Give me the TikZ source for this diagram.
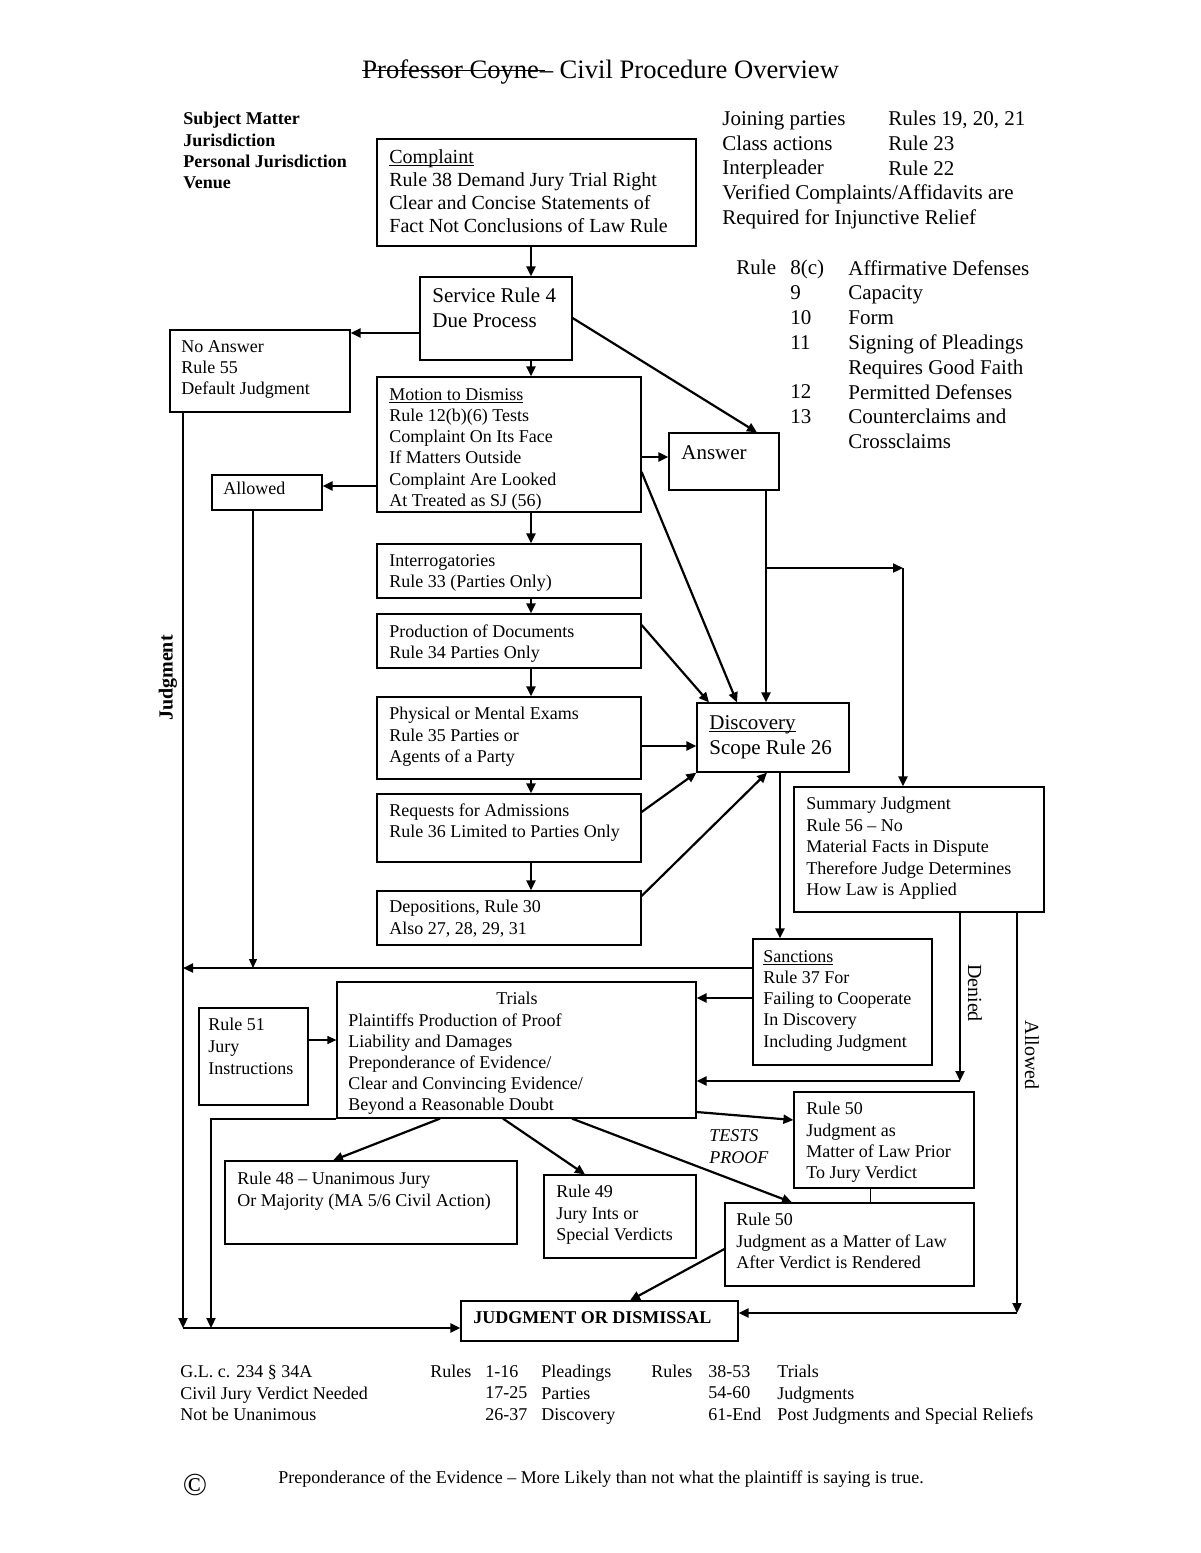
\documentclass[tikz,border=0pt]{standalone}
\usepackage{fontspec}
\setmainfont{Liberation Serif}
\usetikzlibrary{arrows.meta,calc,fit}
\newcommand\myul[1]{\setbox0\hbox{#1}\rlap{\rule[-1.2pt]{\wd0}{0.5pt}}\box0}
\begin{document}
\begin{tikzpicture}[x=0.5pt,y=-0.5pt,
  box/.style={draw, line width=0.6pt, inner sep=0pt},
  tn/.style={inner sep=0pt, anchor=north west, align=left},
  tnine/.style={tn, font=\fontsize{9}{10.6}\selectfont},
  tninew/.style={tn, font=\fontsize{9}{11}\selectfont},
  tten/.style={tn, font=\fontsize{10}{11.5}\selectfont},
  ttenh/.style={tn, font=\fontsize{10.5}{12.4}\selectfont},
  arr/.style={line width=1.1pt, -{Triangle[length=5pt,width=4.5pt]}},
  thinarr/.style={line width=0.6pt, -{Triangle[length=4.5pt,width=4pt]}},
  lbl/.style={inner sep=0pt, font=\fontsize{10}{12}\selectfont}
]
\fill[white] (0,0) rectangle (1200,1553);
\useasboundingbox (0,0) rectangle (1200,1553);

% guides
\foreach \v in {183,211,253,333,440,503,531,572,585,630,709,737,757,766,767,780,792,870,903,960,1017} {\coordinate (v\v) at (\v,0);}
\foreach \h in {318,333,457,472,486,568,625,746,812,896,968,998,1040,1081,1112,1120,1249,1313,1328} {\coordinate (h\h) at (0,\h);}

% title
\node[inner sep=0pt, anchor=base west, font=\fontsize{13.3}{15}\selectfont] (t1) at (362,78) {Professor Coyne\ };
\node[inner sep=0pt, anchor=base west, font=\fontsize{13.3}{15}\selectfont] (t2) at (t1.base east) {– Civil Procedure Overview};
\draw[line width=0.9pt] ([yshift=3.8pt]t1.base west) -- ([yshift=3.8pt,xshift=3pt]t1.base east);

% top-left bold
\node[tn, font=\bfseries\fontsize{9}{10.65}\selectfont] (jur) at (183,112) {Subject Matter\\Jurisdiction\\Personal Jurisdiction\\Venue};

% top-right blocks
\node[ttenh] (rb1) at (722,111) {Joining parties\\Class actions\\Interpleader\\Verified Complaints/Affidavits are\\Required for Injunctive Relief};
\node[ttenh] (rb2) at (888,111) {Rules 19, 20, 21\\Rule 23\\Rule 22};
\node[ttenh] (rr1) at (736,260) {Rule};
\node[ttenh] (rr2) at (790,260) {8(c)\\9\\10\\11\\\mbox{}\\12\\13};
\node[ttenh] (rr3) at (848,260) {Affirmative Defenses\\Capacity\\Form\\Signing of Pleadings\\Requires Good Faith\\Permitted Defenses\\Counterclaims and\\Crossclaims};

% boxes
\node[box, fit={(377,139) (696,246)}] (complaint) {};
\node[box, fit={(420,277) (572,360)}] (service) {};
\node[box, fit={(170,330) (350,412)}] (noanswer) {};
\node[box, fit={(377,377) (641,512)}] (motion) {};
\node[box, fit={(669,433) (779,490)}] (answer) {};
\node[box, fit={(212,475) (322,510)}] (allowed) {};
\node[box, fit={(377,544) (641,598)}] (interrog) {};
\node[box, fit={(377,614) (641,668)}] (prod) {};
\node[box, fit={(377,697) (641,779)}] (phys) {};
\node[box, fit={(377,794) (641,862)}] (req) {};
\node[box, fit={(377,891) (641,945)}] (dep) {};
\node[box, fit={(697,703) (849,772)}] (disc) {};
\node[box, fit={(794,787) (1044,912)}] (sj) {};
\node[box, fit={(753,939) (932,1065)}] (sanc) {};
\node[box, fit={(337,982) (696,1118)}] (trials) {};
\node[box, fit={(199,1008) (308,1105)}] (r51) {};
\node[box, fit={(225,1161) (517,1244)}] (r48) {};
\node[box, fit={(544,1175) (696,1258)}] (r49) {};
\node[box, fit={(794,1092) (974,1188)}] (r50a) {};
\node[box, fit={(725,1203) (974,1286)}] (r50b) {};
\node[box, fit={(461,1301) (738,1341)}] (judg) {};

% box texts
\node[tten] (complaint-t) at (389,149.5) {\myul{Complaint}\\Rule 38 Demand Jury Trial Right\\Clear and Concise Statements of\\Fact Not Conclusions of Law Rule};
\node[ttenh, font=\fontsize{10.5}{12.5}\selectfont] (service-t) at (432,288) {Service Rule 4\\Due Process};
\node[tnine] (noanswer-t) at (181,340) {No Answer\\Rule 55\\Default Judgment};
\node[tnine] (motion-t) at (389,388) {\myul{Motion to Dismiss}\\Rule 12(b)(6) Tests\\Complaint On Its Face\\If Matters Outside\\Complaint Are Looked\\At Treated as SJ (56)};
\node[ttenh] (answer-t) at (681,445) {Answer};
\node[tnine] (allowed-t) at (223,482) {Allowed};
\node[tnine] (interrog-t) at (389,554) {Interrogatories\\Rule 33 (Parties Only)};
\node[tnine] (prod-t) at (389,624) {Production of Documents\\Rule 34 Parties Only};
\node[tnine] (phys-t) at (389,707) {Physical or Mental Exams\\Rule 35 Parties or\\Agents of a Party};
\node[tnine] (req-t) at (389,803) {Requests for Admissions\\Rule 36 Limited to Parties Only};
\node[tninew] (dep-t) at (389,900) {Depositions, Rule 30\\Also 27, 28, 29, 31};
\node[ttenh, font=\fontsize{10.5}{12.5}\selectfont] (disc-t) at (709,715) {\myul{Discovery}\\Scope Rule 26};
\node[tn, font=\fontsize{9}{10.75}\selectfont] (sj-t) at (806,797) {Summary Judgment\\Rule 56 – No\\Material Facts in Dispute\\Therefore Judge Determines\\How Law is Applied};
\node[tnine] (sanc-t) at (763,950) {\myul{Sanctions}\\Rule 37 For\\Failing to Cooperate\\In Discovery\\Including Judgment};
\node[tnine, anchor=north] (trials-h) at (517,992) {Trials};
\node[tnine] (trials-t) at (348,1013) {Plaintiffs Production of Proof\\Liability and Damages\\Preponderance of Evidence/\\Clear and Convincing Evidence/\\Beyond a Reasonable Doubt};
\node[tninew] (r51-t) at (208,1018) {Rule 51\\Jury\\Instructions};
\node[tnine] (r48-t) at (237,1172) {Rule 48 – Unanimous Jury\\Or Majority (MA 5/6 Civil Action)};
\node[tnine] (r49-t) at (556,1185) {Rule 49\\Jury Ints or\\Special Verdicts};
\node[tnine] (r50a-t) at (806,1102) {Rule 50\\Judgment as\\Matter of Law Prior\\To Jury Verdict};
\node[tnine] (r50b-t) at (736,1213) {Rule 50\\Judgment as a Matter of Law\\After Verdict is Rendered};
\node[tn, font=\bfseries\fontsize{9}{11}\selectfont] (judg-t) at (473,1311) {JUDGMENT OR DISMISSAL};
\node[tn, font=\itshape\fontsize{9}{11}\selectfont] (tests) at (709,1129) {TESTS\\PROOF};

% rotated labels
\node[lbl, font=\bfseries\fontsize{10}{12}\selectfont, rotate=90] (lbljudg) at (168,678) {Judgment};
\node[lbl, rotate=-90] (lbldenied) at (975,993) {Denied};
\node[lbl, rotate=-90] (lblallowed) at (1032,1055) {Allowed};

% connectors
\draw[arr] (v531 |- complaint.south) -- (v531 |- service.north);
\draw[arr] (service.west |- h333) -- (noanswer.east |- h333);
\draw[arr] (v531 |- service.south) -- (v531 |- motion.north);
\draw[arr] (service.east |- h318) -- (v757 |- answer.north);
\draw[arr] (motion.east |- h457) -- (answer.west |- h457);
\draw[arr] (motion.west |- h486) -- (allowed.east |- h486);
\draw[arr] (motion.east |- h472) -- (v737 |- disc.north);
\draw[arr] (v531 |- motion.south) -- (v531 |- interrog.north);
\draw[arr] (v531 |- interrog.south) -- (v531 |- prod.north);
\draw[arr] (v531 |- prod.south) -- (v531 |- phys.north);
\draw[arr] (prod.east |- h625) -- (v709 |- disc.north);
\draw[arr] (v766 |- answer.south) -- (v766 |- disc.north);
\draw[arr] (v766 |- h568) -- (v903 |- h568);
\draw[arr] (v903 |- h568) -- (v903 |- sj.north);
\draw[arr] (phys.east |- h746) -- (disc.west |- h746);
\draw[arr] (v531 |- phys.south) -- (v531 |- req.north);
\draw[arr] (req.east |- h812) -- (disc.south west);
\draw[arr] (v531 |- req.south) -- (v531 |- dep.north);
\draw[arr] (dep.east |- h896) -- (v767 |- disc.south);
\draw[arr] (v780 |- disc.south) -- (v780 |- sanc.north);
\draw[arr] (v183 |- noanswer.south) -- (v183 |- h1328);
\draw[arr] (v183 |- h1328) -- (judg.west |- h1328);
\draw[thinarr] (v253 |- allowed.south) -- (v253 |- h968);
\draw[arr] (sanc.west |- h968) -- (v183 |- h968);
\draw[arr] (sanc.west |- h998) -- (trials.east |- h998);
\draw[arr] (v960 |- sj.south) -- (v960 |- h1081);
\draw[arr] (v960 |- h1081) -- (trials.east |- h1081);
\draw[arr] (v1017 |- sj.south) -- (v1017 |- h1313);
\draw[arr] (v1017 |- h1313) -- (judg.east |- h1313);
\draw[thinarr] (r51.east |- h1040) -- (trials.west |- h1040);
\draw[arr] (trials.east |- h1112) -- (r50a.west |- h1120);
\draw[arr] (v440 |- trials.south) -- (v333 |- r48.north);
\draw[arr] (v503 |- trials.south) -- (v585 |- r49.north);
\draw[arr] (v572 |- trials.south) -- (v792 |- r50b.north);
\draw[line width=0.5pt] (v870 |- r50a.south) -- (v870 |- r50b.north);
\draw[arr] (r50b.west |- h1249) -- (v630 |- judg.north);
\draw[arr] (trials.south west) -- (v211 |- trials.south west) -- (v211 |- h1328);

% bottom text
\node[tn, font=\fontsize{9}{10.75}\selectfont] (bl1) at (180,1365) {G.L. c. 234 § 34A\\Civil Jury Verdict Needed\\Not be Unanimous};
\node[tn, font=\fontsize{9}{10.75}\selectfont] (bl2) at (430,1365) {Rules};
\node[tn, font=\fontsize{9}{10.75}\selectfont] (bl3) at (485,1365) {1-16\\17-25\\26-37};
\node[tn, font=\fontsize{9}{10.75}\selectfont] (bl4) at (541,1365) {Pleadings\\Parties\\Discovery};
\node[tn, font=\fontsize{9}{10.75}\selectfont] (bl5) at (651,1365) {Rules};
\node[tn, font=\fontsize{9}{10.75}\selectfont] (bl6) at (708,1365) {38-53\\54-60\\61-End};
\node[tn, font=\fontsize{9}{10.75}\selectfont] (bl7) at (777,1365) {Trials\\Judgments\\Post Judgments and Special Reliefs};

\node[inner sep=0pt, font=\fontsize{16}{18}\selectfont] (copy) at (195,1485) {\textcopyright};
\node[tn, font=\fontsize{9}{10.75}\selectfont] (foot) at (278,1470) {Preponderance of the Evidence – More Likely than not what the plaintiff is saying is true.};
\end{tikzpicture}
\end{document}
